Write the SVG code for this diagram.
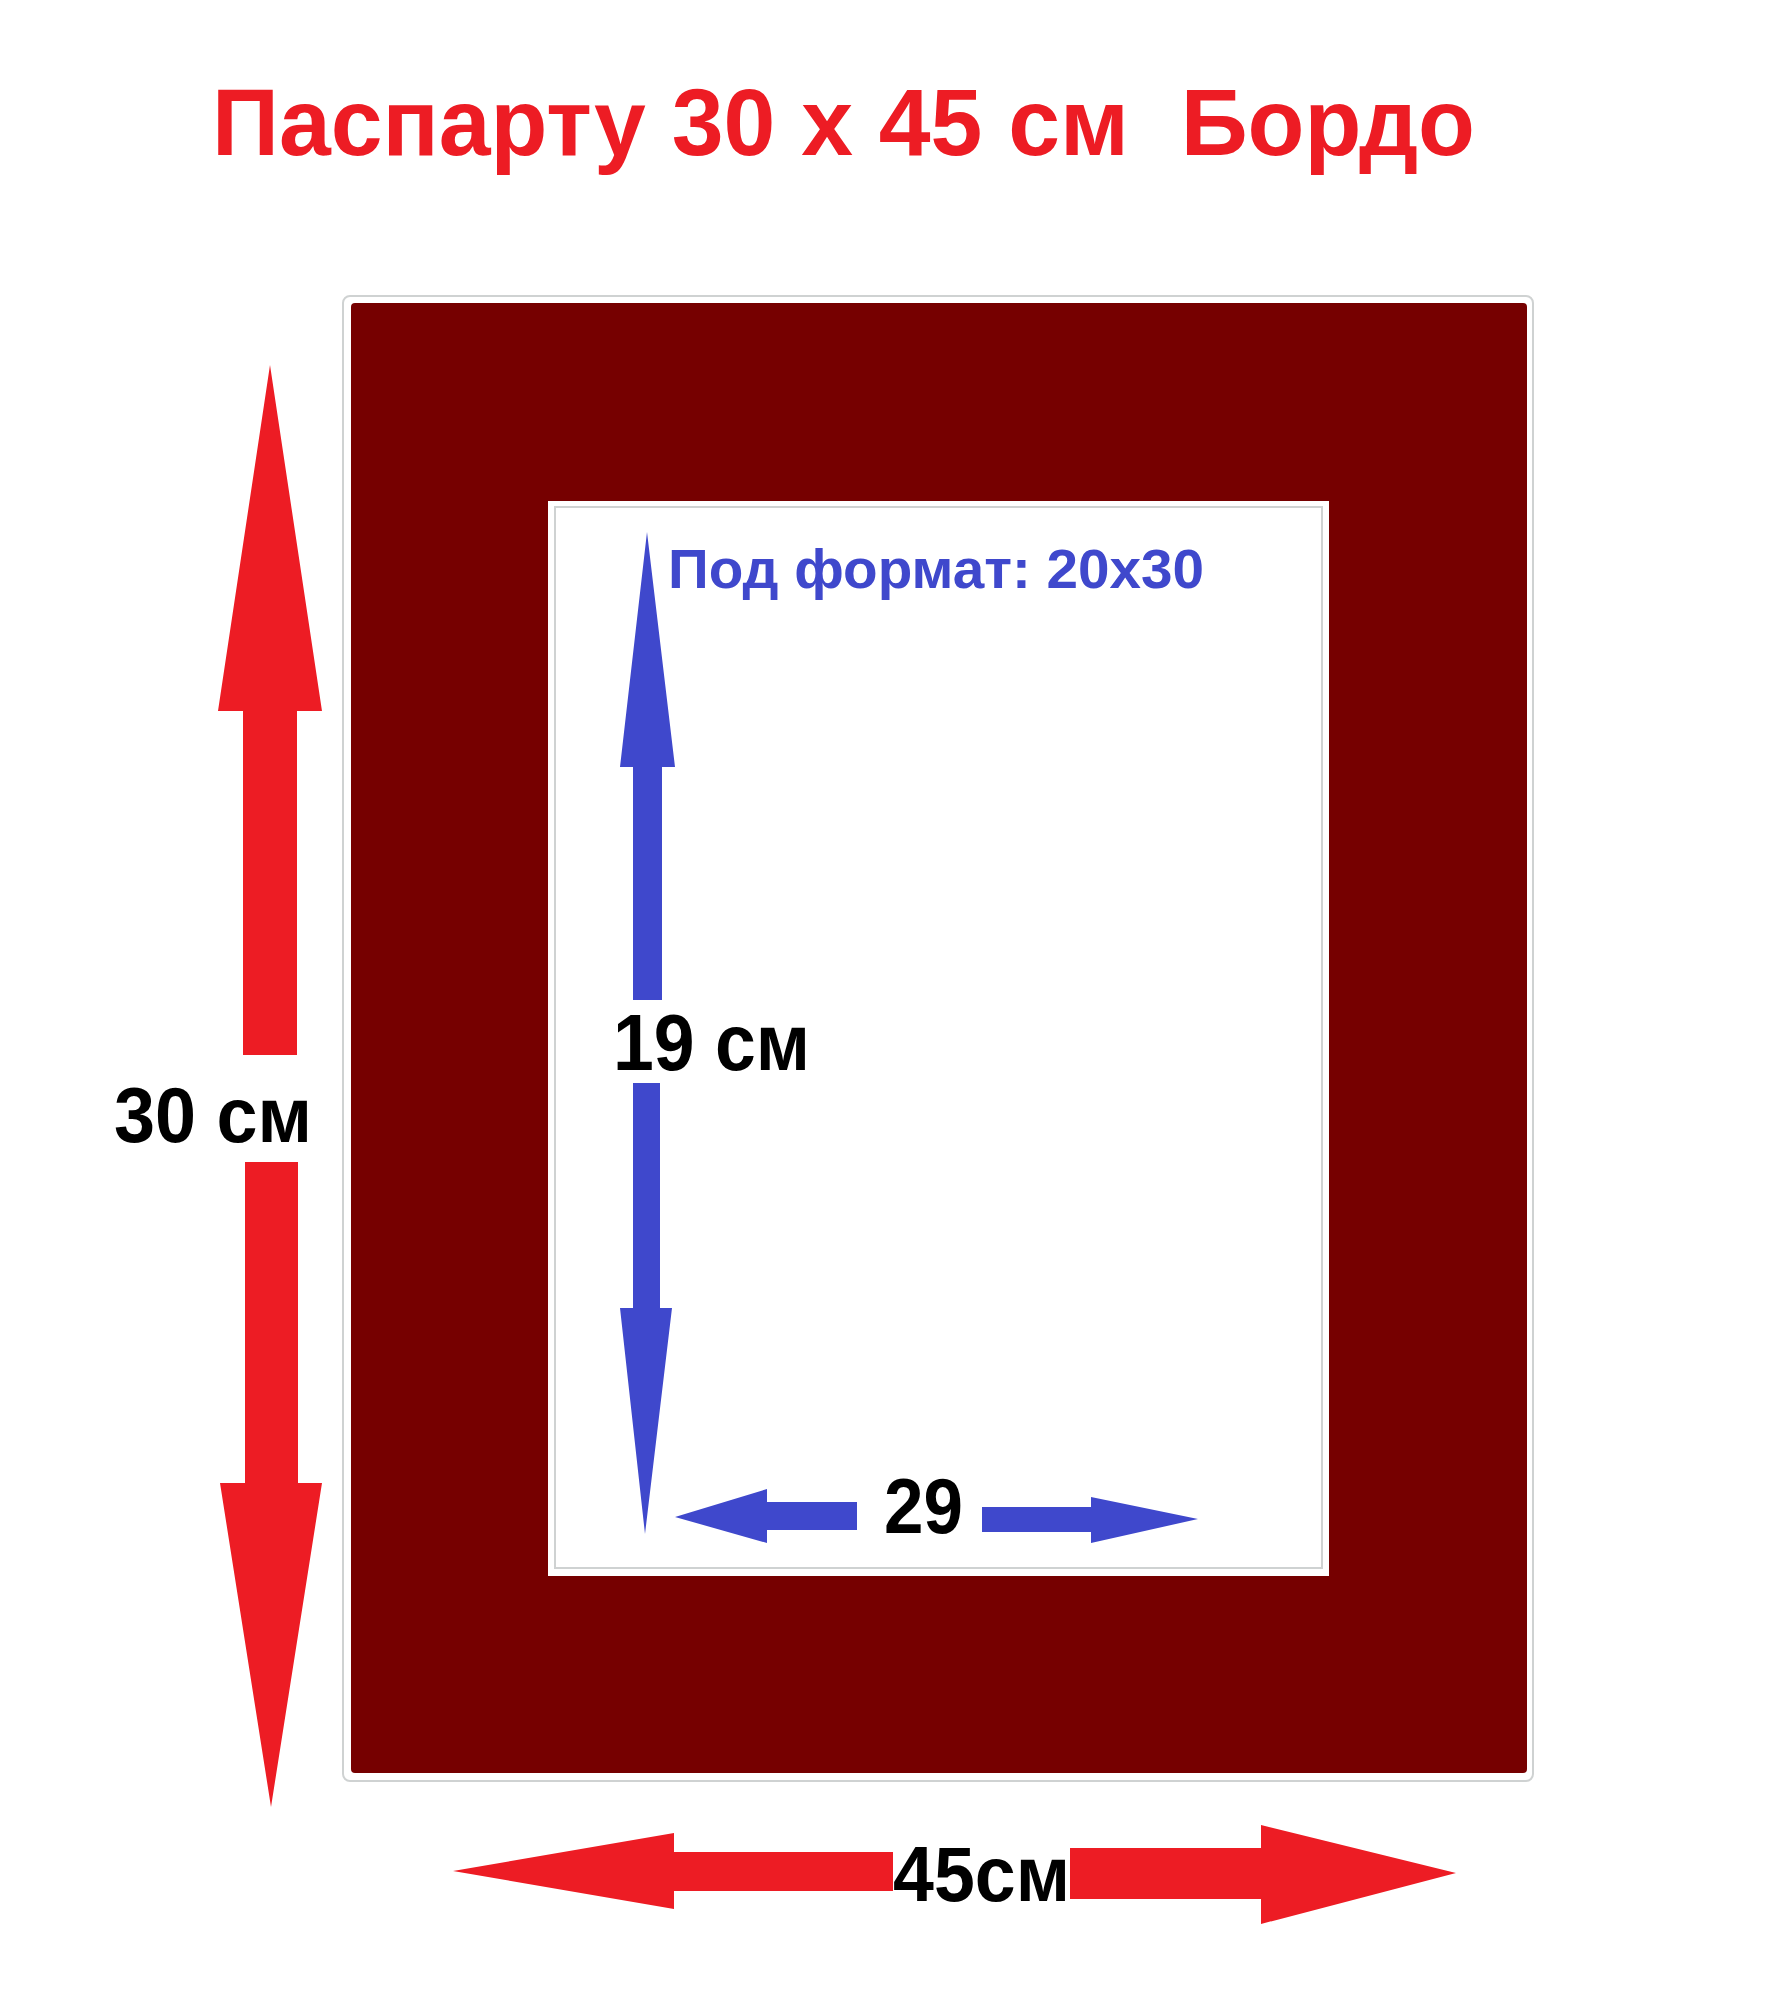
<svg xmlns="http://www.w3.org/2000/svg" width="1765" height="2000" viewBox="0 0 1765 2000">
  <style>
    .t { font-family: "Liberation Sans", Arial, sans-serif; font-weight: bold; white-space: pre; }
    .red { fill: #ed1c24; }
    .blue { fill: #3f48cc; }
    .blk { fill: #000000; }
  </style>
  <rect width="1765" height="2000" fill="#ffffff"/>

  <g id="title">
    <text class="t red" x="212" y="155" font-size="95" textLength="1263" lengthAdjust="spacingAndGlyphs" xml:space="preserve">Паспарту 30 х 45 см  Бордо</text>
  </g>

  <g id="passepartout">
    <rect x="343" y="296" width="1190" height="1485" rx="7" fill="#ffffff" stroke="#cfd2d2" stroke-width="2"/>
    <rect x="351" y="303" width="1176" height="1470" rx="4" fill="#760000"/>
    <rect x="548" y="501" width="781" height="1075" fill="#ffffff"/>
    <rect x="555" y="507" width="767" height="1061" fill="none" stroke="#cfd2d2" stroke-width="2"/>
  </g>

  <g id="window-label">
    <text class="t blue" x="668" y="588" font-size="56" textLength="536" lengthAdjust="spacingAndGlyphs">Под формат: 20x30</text>
  </g>

  <g id="connectors">
    <!-- red vertical 30 cm -->
    <polygon class="red" points="270,365 322,711 297,711 297,1055 243,1055 243,711 218,711"/>
    <polygon class="red" points="245,1162 298,1162 298,1483 322,1483 271,1807 220,1483 245,1483"/>
    <!-- red horizontal 45 cm -->
    <polygon class="red" points="453,1871 674,1833 674,1852 893,1852 893,1891 674,1891 674,1909"/>
    <polygon class="red" points="1070,1848 1261,1848 1261,1825 1456,1873 1261,1924 1261,1899 1070,1899"/>
    <!-- blue vertical 19 cm -->
    <polygon class="blue" points="647,532 675,767 662,767 662,1000 633,1000 633,767 620,767"/>
    <polygon class="blue" points="633,1083 660,1083 660,1308 672,1308 645,1534 620,1308 633,1308"/>
    <!-- blue horizontal 29 -->
    <polygon class="blue" points="675,1517 767,1489 767,1502 857,1502 857,1530 767,1530 767,1543"/>
    <polygon class="blue" points="982,1507 1091,1507 1091,1497 1198,1519 1091,1543 1091,1532 982,1532"/>
  </g>

  <g id="labels">
    <text class="t blk" x="114" y="1142" font-size="78" textLength="198" lengthAdjust="spacingAndGlyphs">30 см</text>
    <text class="t blk" x="613" y="1070" font-size="80" textLength="197" lengthAdjust="spacingAndGlyphs">19 см</text>
    <text class="t blk" x="884" y="1533" font-size="78" textLength="79" lengthAdjust="spacingAndGlyphs">29</text>
    <text class="t blk" x="893" y="1901" font-size="77" textLength="177" lengthAdjust="spacingAndGlyphs">45см</text>
  </g>
</svg>
